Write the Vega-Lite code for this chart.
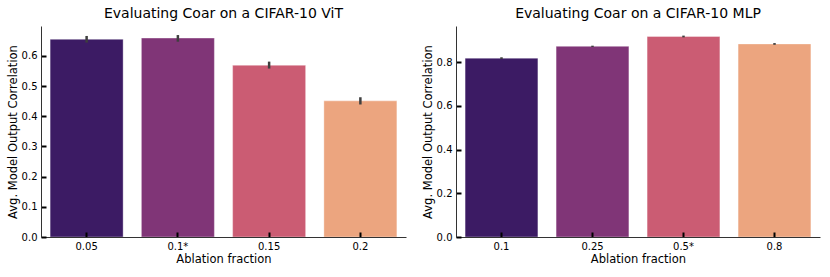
{
  "$schema": "https://vega.github.io/schema/vega-lite/v6.json",
  "padding": {"left": 7, "top": 7, "right": 5, "bottom": 5},
  "spacing": 16,
  "config": {
    "font": "DejaVu Sans",
    "view": {"stroke": null},
    "title": {"fontSize": 14, "fontWeight": "normal", "color": "black", "offset": 5, "font": "DejaVu Sans"},
    "axis": {
      "grid": false,
      "zindex": 1,
      "domainColor": "#333333",
      "domainWidth": 1,
      "tickColor": "black",
      "tickWidth": 2,
      "tickSize": -5,
      "labelFontSize": 10,
      "labelColor": "black",
      "labelPadding": 9,
      "labelOverlap": false,
      "titleFontSize": 11.5,
      "titleFontWeight": "normal",
      "titleColor": "black"
    }
  },
  "datasets": {
    "vit": [
      {"fraction": "0.05", "corr": 0.655, "lo": 0.644, "hi": 0.666},
      {"fraction": "0.1*", "corr": 0.659, "lo": 0.647, "hi": 0.669},
      {"fraction": "0.15", "corr": 0.569, "lo": 0.558, "hi": 0.581},
      {"fraction": "0.2", "corr": 0.451, "lo": 0.439, "hi": 0.463}
    ],
    "mlp": [
      {"fraction": "0.1", "corr": 0.818, "lo": 0.814, "hi": 0.822},
      {"fraction": "0.25", "corr": 0.872, "lo": 0.869, "hi": 0.875},
      {"fraction": "0.5*", "corr": 0.917, "lo": 0.913, "hi": 0.921},
      {"fraction": "0.8", "corr": 0.883, "lo": 0.879, "hi": 0.887}
    ]
  },
  "resolve": {"scale": {"color": "independent", "x": "independent", "y": "independent"}},
  "hconcat": [
    {
      "width": 365,
      "height": 211,
      "title": "Evaluating Coar on a CIFAR-10 ViT",
      "data": {"name": "vit"},
      "encoding": {
        "x": {
          "field": "fraction", "type": "nominal", "sort": null,
          "scale": {"paddingInner": 0.2, "paddingOuter": 0.1},
          "axis": {"labelAngle": 0, "title": "Ablation fraction", "titlePadding": 2, "zindex": 1}
        }
      },
      "layer": [
        {
          "mark": {"type": "bar", "stroke": "white", "strokeWidth": 1, "strokeOpacity": 0.35},
          "encoding": {
            "y": {
              "field": "corr", "type": "quantitative",
              "scale": {"domain": [0, 0.699], "nice": false},
              "axis": {"values": [0, 0.1, 0.2, 0.3, 0.4, 0.5, 0.6], "format": ".1f", "title": "Avg. Model Output Correlation", "titlePadding": 3, "zindex": 1}
            },
            "color": {
              "field": "fraction", "type": "nominal",
              "scale": {"domain": ["0.05", "0.1*", "0.15", "0.2"], "range": ["#3c1b64", "#803577", "#cb5c73", "#eca57f"]},
              "legend": null
            }
          }
        },
        {
          "mark": {"type": "rule", "color": "#3f3f3f", "strokeWidth": 2.5},
          "encoding": {
            "y": {
              "field": "lo", "type": "quantitative",
              "axis": {"values": [0, 0.1, 0.2, 0.3, 0.4, 0.5, 0.6], "format": ".1f", "title": "Avg. Model Output Correlation", "titlePadding": 3, "zindex": 1}
            },
            "y2": {"field": "hi"}
          }
        }
      ]
    },
    {
      "width": 364,
      "height": 211,
      "title": "Evaluating Coar on a CIFAR-10 MLP",
      "data": {"name": "mlp"},
      "encoding": {
        "x": {
          "field": "fraction", "type": "nominal", "sort": null,
          "scale": {"paddingInner": 0.2, "paddingOuter": 0.1},
          "axis": {"labelAngle": 0, "title": "Ablation fraction", "titlePadding": 2, "zindex": 1}
        }
      },
      "layer": [
        {
          "mark": {"type": "bar", "stroke": "white", "strokeWidth": 1, "strokeOpacity": 0.35},
          "encoding": {
            "y": {
              "field": "corr", "type": "quantitative",
              "scale": {"domain": [0, 0.965], "nice": false},
              "axis": {"values": [0, 0.2, 0.4, 0.6, 0.8], "format": ".1f", "title": "Avg. Model Output Correlation", "titlePadding": 3, "zindex": 1}
            },
            "color": {
              "field": "fraction", "type": "nominal",
              "scale": {"domain": ["0.1", "0.25", "0.5*", "0.8"], "range": ["#3c1b64", "#803577", "#cb5c73", "#eca57f"]},
              "legend": null
            }
          }
        },
        {
          "mark": {"type": "rule", "color": "#3f3f3f", "strokeWidth": 2.5},
          "encoding": {
            "y": {
              "field": "lo", "type": "quantitative",
              "axis": {"values": [0, 0.2, 0.4, 0.6, 0.8], "format": ".1f", "title": "Avg. Model Output Correlation", "titlePadding": 3, "zindex": 1}
            },
            "y2": {"field": "hi"}
          }
        }
      ]
    }
  ]
}
